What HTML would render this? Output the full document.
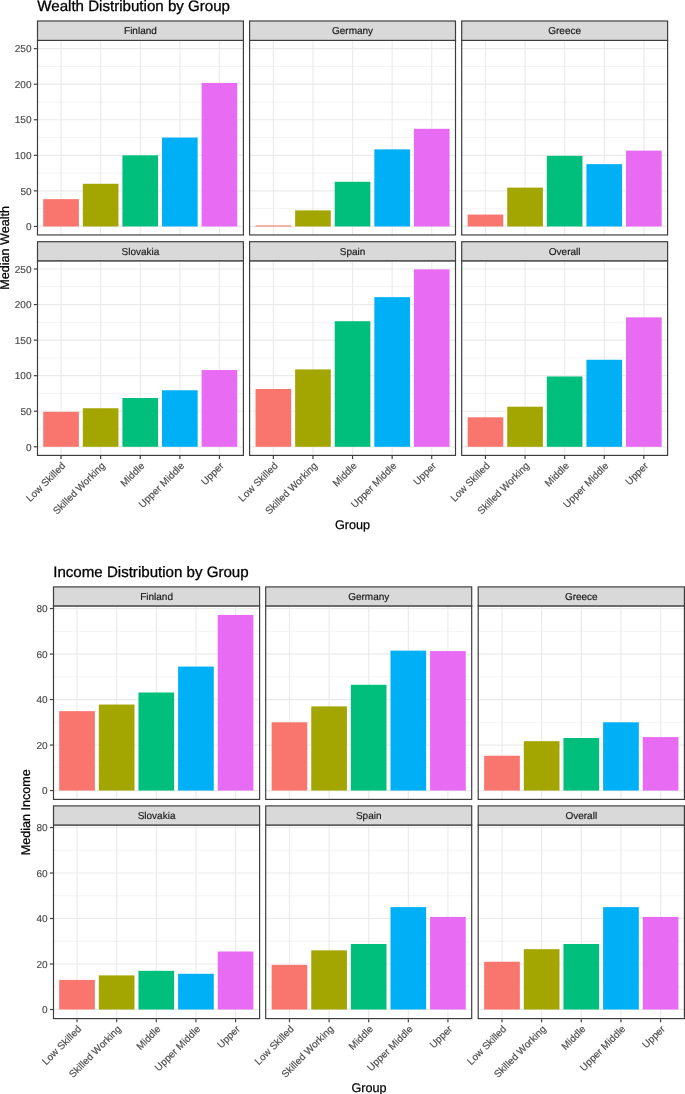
<!DOCTYPE html>
<html><head><meta charset="utf-8"><title>Distribution by Group</title>
<style>
html,body{margin:0;padding:0;background:#fff;}
body{width:685px;height:1094px;overflow:hidden;}
text.t{stroke:#000;stroke-width:0.3px;}
text.a{stroke:#000;stroke-width:0.25px;}
text.k{stroke:#4D4D4D;stroke-width:0.18px;}
text.s{stroke:#1A1A1A;stroke-width:0.18px;}
svg{display:block;text-rendering:geometricPrecision;font-family:"Liberation Sans",Arial,Helvetica,sans-serif;}
</style></head><body>
<svg width="685" height="1094" viewBox="0 0 685 1094">
<rect width="685" height="1094" fill="#fff"/>
<g id="wealth">
<text class="t" x="37.3" y="11.4" font-size="15.1" fill="#000">Wealth Distribution by Group</text>
<rect x="37.5" y="40.4" width="205.9" height="194.55" fill="#fff"/>
<line x1="37.5" x2="243.4" y1="208.67" y2="208.67" stroke="#EBEBEB" stroke-width="0.6"/>
<line x1="37.5" x2="243.4" y1="173.11" y2="173.11" stroke="#EBEBEB" stroke-width="0.6"/>
<line x1="37.5" x2="243.4" y1="137.55" y2="137.55" stroke="#EBEBEB" stroke-width="0.6"/>
<line x1="37.5" x2="243.4" y1="101.99" y2="101.99" stroke="#EBEBEB" stroke-width="0.6"/>
<line x1="37.5" x2="243.4" y1="66.43" y2="66.43" stroke="#EBEBEB" stroke-width="0.6"/>
<line x1="37.5" x2="243.4" y1="226.45" y2="226.45" stroke="#EBEBEB" stroke-width="1.18"/>
<line x1="37.5" x2="243.4" y1="190.89" y2="190.89" stroke="#EBEBEB" stroke-width="1.18"/>
<line x1="37.5" x2="243.4" y1="155.33" y2="155.33" stroke="#EBEBEB" stroke-width="1.18"/>
<line x1="37.5" x2="243.4" y1="119.77" y2="119.77" stroke="#EBEBEB" stroke-width="1.18"/>
<line x1="37.5" x2="243.4" y1="84.21" y2="84.21" stroke="#EBEBEB" stroke-width="1.18"/>
<line x1="37.5" x2="243.4" y1="48.65" y2="48.65" stroke="#EBEBEB" stroke-width="1.18"/>
<line x1="61.04" x2="61.04" y1="40.4" y2="234.95" stroke="#EBEBEB" stroke-width="1.18"/>
<line x1="100.63" x2="100.63" y1="40.4" y2="234.95" stroke="#EBEBEB" stroke-width="1.18"/>
<line x1="140.23" x2="140.23" y1="40.4" y2="234.95" stroke="#EBEBEB" stroke-width="1.18"/>
<line x1="179.83" x2="179.83" y1="40.4" y2="234.95" stroke="#EBEBEB" stroke-width="1.18"/>
<line x1="219.42" x2="219.42" y1="40.4" y2="234.95" stroke="#EBEBEB" stroke-width="1.18"/>
<rect x="43.22" y="199.14" width="35.64" height="27.31" fill="#F8766D"/>
<rect x="82.82" y="183.78" width="35.64" height="42.67" fill="#A3A500"/>
<rect x="122.41" y="155.33" width="35.64" height="71.12" fill="#00BF7D"/>
<rect x="162.01" y="137.55" width="35.64" height="88.9" fill="#00B0F6"/>
<rect x="201.6" y="82.93" width="35.64" height="143.52" fill="#E76BF3"/>
<rect x="37.5" y="40.4" width="205.9" height="194.55" fill="none" stroke="#3d3d3d" stroke-width="1.18"/>
<rect x="37.5" y="21" width="205.9" height="19.4" fill="#D9D9D9" stroke="#3d3d3d" stroke-width="1.18"/>
<text class="s" x="140.45" y="34.1" font-size="10" fill="#1A1A1A" text-anchor="middle">Finland</text>
<line x1="33.86" x2="36.91" y1="226.45" y2="226.45" stroke="#3d3d3d" stroke-width="1.18"/>
<text class="k" x="31.5" y="230.15" font-size="10" fill="#4D4D4D" text-anchor="end">0</text>
<line x1="33.86" x2="36.91" y1="190.89" y2="190.89" stroke="#3d3d3d" stroke-width="1.18"/>
<text class="k" x="31.5" y="194.59" font-size="10" fill="#4D4D4D" text-anchor="end">50</text>
<line x1="33.86" x2="36.91" y1="155.33" y2="155.33" stroke="#3d3d3d" stroke-width="1.18"/>
<text class="k" x="31.5" y="159.03" font-size="10" fill="#4D4D4D" text-anchor="end">100</text>
<line x1="33.86" x2="36.91" y1="119.77" y2="119.77" stroke="#3d3d3d" stroke-width="1.18"/>
<text class="k" x="31.5" y="123.47" font-size="10" fill="#4D4D4D" text-anchor="end">150</text>
<line x1="33.86" x2="36.91" y1="84.21" y2="84.21" stroke="#3d3d3d" stroke-width="1.18"/>
<text class="k" x="31.5" y="87.91" font-size="10" fill="#4D4D4D" text-anchor="end">200</text>
<line x1="33.86" x2="36.91" y1="48.65" y2="48.65" stroke="#3d3d3d" stroke-width="1.18"/>
<text class="k" x="31.5" y="52.35" font-size="10" fill="#4D4D4D" text-anchor="end">250</text>
<rect x="249.6" y="40.4" width="205.9" height="194.55" fill="#fff"/>
<line x1="249.6" x2="455.5" y1="208.67" y2="208.67" stroke="#EBEBEB" stroke-width="0.6"/>
<line x1="249.6" x2="455.5" y1="173.11" y2="173.11" stroke="#EBEBEB" stroke-width="0.6"/>
<line x1="249.6" x2="455.5" y1="137.55" y2="137.55" stroke="#EBEBEB" stroke-width="0.6"/>
<line x1="249.6" x2="455.5" y1="101.99" y2="101.99" stroke="#EBEBEB" stroke-width="0.6"/>
<line x1="249.6" x2="455.5" y1="66.43" y2="66.43" stroke="#EBEBEB" stroke-width="0.6"/>
<line x1="249.6" x2="455.5" y1="226.45" y2="226.45" stroke="#EBEBEB" stroke-width="1.18"/>
<line x1="249.6" x2="455.5" y1="190.89" y2="190.89" stroke="#EBEBEB" stroke-width="1.18"/>
<line x1="249.6" x2="455.5" y1="155.33" y2="155.33" stroke="#EBEBEB" stroke-width="1.18"/>
<line x1="249.6" x2="455.5" y1="119.77" y2="119.77" stroke="#EBEBEB" stroke-width="1.18"/>
<line x1="249.6" x2="455.5" y1="84.21" y2="84.21" stroke="#EBEBEB" stroke-width="1.18"/>
<line x1="249.6" x2="455.5" y1="48.65" y2="48.65" stroke="#EBEBEB" stroke-width="1.18"/>
<line x1="273.36" x2="273.36" y1="40.4" y2="234.95" stroke="#EBEBEB" stroke-width="1.18"/>
<line x1="312.95" x2="312.95" y1="40.4" y2="234.95" stroke="#EBEBEB" stroke-width="1.18"/>
<line x1="352.55" x2="352.55" y1="40.4" y2="234.95" stroke="#EBEBEB" stroke-width="1.18"/>
<line x1="392.15" x2="392.15" y1="40.4" y2="234.95" stroke="#EBEBEB" stroke-width="1.18"/>
<line x1="431.74" x2="431.74" y1="40.4" y2="234.95" stroke="#EBEBEB" stroke-width="1.18"/>
<rect x="255.54" y="225.45" width="35.64" height="1" fill="#F8766D"/>
<rect x="295.14" y="210.38" width="35.64" height="16.07" fill="#A3A500"/>
<rect x="334.73" y="181.79" width="35.64" height="44.66" fill="#00BF7D"/>
<rect x="374.33" y="149.36" width="35.64" height="77.09" fill="#00B0F6"/>
<rect x="413.92" y="128.8" width="35.64" height="97.65" fill="#E76BF3"/>
<rect x="249.6" y="40.4" width="205.9" height="194.55" fill="none" stroke="#3d3d3d" stroke-width="1.18"/>
<rect x="249.6" y="21" width="205.9" height="19.4" fill="#D9D9D9" stroke="#3d3d3d" stroke-width="1.18"/>
<text class="s" x="352.55" y="34.1" font-size="10" fill="#1A1A1A" text-anchor="middle">Germany</text>
<rect x="461.7" y="40.4" width="205.9" height="194.55" fill="#fff"/>
<line x1="461.7" x2="667.6" y1="208.67" y2="208.67" stroke="#EBEBEB" stroke-width="0.6"/>
<line x1="461.7" x2="667.6" y1="173.11" y2="173.11" stroke="#EBEBEB" stroke-width="0.6"/>
<line x1="461.7" x2="667.6" y1="137.55" y2="137.55" stroke="#EBEBEB" stroke-width="0.6"/>
<line x1="461.7" x2="667.6" y1="101.99" y2="101.99" stroke="#EBEBEB" stroke-width="0.6"/>
<line x1="461.7" x2="667.6" y1="66.43" y2="66.43" stroke="#EBEBEB" stroke-width="0.6"/>
<line x1="461.7" x2="667.6" y1="226.45" y2="226.45" stroke="#EBEBEB" stroke-width="1.18"/>
<line x1="461.7" x2="667.6" y1="190.89" y2="190.89" stroke="#EBEBEB" stroke-width="1.18"/>
<line x1="461.7" x2="667.6" y1="155.33" y2="155.33" stroke="#EBEBEB" stroke-width="1.18"/>
<line x1="461.7" x2="667.6" y1="119.77" y2="119.77" stroke="#EBEBEB" stroke-width="1.18"/>
<line x1="461.7" x2="667.6" y1="84.21" y2="84.21" stroke="#EBEBEB" stroke-width="1.18"/>
<line x1="461.7" x2="667.6" y1="48.65" y2="48.65" stroke="#EBEBEB" stroke-width="1.18"/>
<line x1="485.46" x2="485.46" y1="40.4" y2="234.95" stroke="#EBEBEB" stroke-width="1.18"/>
<line x1="525.05" x2="525.05" y1="40.4" y2="234.95" stroke="#EBEBEB" stroke-width="1.18"/>
<line x1="564.65" x2="564.65" y1="40.4" y2="234.95" stroke="#EBEBEB" stroke-width="1.18"/>
<line x1="604.25" x2="604.25" y1="40.4" y2="234.95" stroke="#EBEBEB" stroke-width="1.18"/>
<line x1="643.84" x2="643.84" y1="40.4" y2="234.95" stroke="#EBEBEB" stroke-width="1.18"/>
<rect x="467.64" y="214.57" width="35.64" height="11.88" fill="#F8766D"/>
<rect x="507.24" y="187.62" width="35.64" height="38.83" fill="#A3A500"/>
<rect x="546.83" y="155.83" width="35.64" height="70.62" fill="#00BF7D"/>
<rect x="586.43" y="164.15" width="35.64" height="62.3" fill="#00B0F6"/>
<rect x="626.02" y="150.64" width="35.64" height="75.81" fill="#E76BF3"/>
<rect x="461.7" y="40.4" width="205.9" height="194.55" fill="none" stroke="#3d3d3d" stroke-width="1.18"/>
<rect x="461.7" y="21" width="205.9" height="19.4" fill="#D9D9D9" stroke="#3d3d3d" stroke-width="1.18"/>
<text class="s" x="564.65" y="34.1" font-size="10" fill="#1A1A1A" text-anchor="middle">Greece</text>
<rect x="37.5" y="260.8" width="205.9" height="194.6" fill="#fff"/>
<line x1="37.5" x2="243.4" y1="429.02" y2="429.02" stroke="#EBEBEB" stroke-width="0.6"/>
<line x1="37.5" x2="243.4" y1="393.46" y2="393.46" stroke="#EBEBEB" stroke-width="0.6"/>
<line x1="37.5" x2="243.4" y1="357.9" y2="357.9" stroke="#EBEBEB" stroke-width="0.6"/>
<line x1="37.5" x2="243.4" y1="322.34" y2="322.34" stroke="#EBEBEB" stroke-width="0.6"/>
<line x1="37.5" x2="243.4" y1="286.78" y2="286.78" stroke="#EBEBEB" stroke-width="0.6"/>
<line x1="37.5" x2="243.4" y1="446.8" y2="446.8" stroke="#EBEBEB" stroke-width="1.18"/>
<line x1="37.5" x2="243.4" y1="411.24" y2="411.24" stroke="#EBEBEB" stroke-width="1.18"/>
<line x1="37.5" x2="243.4" y1="375.68" y2="375.68" stroke="#EBEBEB" stroke-width="1.18"/>
<line x1="37.5" x2="243.4" y1="340.12" y2="340.12" stroke="#EBEBEB" stroke-width="1.18"/>
<line x1="37.5" x2="243.4" y1="304.56" y2="304.56" stroke="#EBEBEB" stroke-width="1.18"/>
<line x1="37.5" x2="243.4" y1="269" y2="269" stroke="#EBEBEB" stroke-width="1.18"/>
<line x1="61.04" x2="61.04" y1="260.8" y2="455.4" stroke="#EBEBEB" stroke-width="1.18"/>
<line x1="100.63" x2="100.63" y1="260.8" y2="455.4" stroke="#EBEBEB" stroke-width="1.18"/>
<line x1="140.23" x2="140.23" y1="260.8" y2="455.4" stroke="#EBEBEB" stroke-width="1.18"/>
<line x1="179.83" x2="179.83" y1="260.8" y2="455.4" stroke="#EBEBEB" stroke-width="1.18"/>
<line x1="219.42" x2="219.42" y1="260.8" y2="455.4" stroke="#EBEBEB" stroke-width="1.18"/>
<rect x="43.22" y="411.81" width="35.64" height="34.99" fill="#F8766D"/>
<rect x="82.82" y="408.25" width="35.64" height="38.55" fill="#A3A500"/>
<rect x="122.41" y="398.01" width="35.64" height="48.79" fill="#00BF7D"/>
<rect x="162.01" y="390.26" width="35.64" height="56.54" fill="#00B0F6"/>
<rect x="201.6" y="370.06" width="35.64" height="76.74" fill="#E76BF3"/>
<rect x="37.5" y="260.8" width="205.9" height="194.6" fill="none" stroke="#3d3d3d" stroke-width="1.18"/>
<rect x="37.5" y="241.7" width="205.9" height="19.1" fill="#D9D9D9" stroke="#3d3d3d" stroke-width="1.18"/>
<text class="s" x="140.45" y="255.25" font-size="10" fill="#1A1A1A" text-anchor="middle">Slovakia</text>
<line x1="33.86" x2="36.91" y1="446.8" y2="446.8" stroke="#3d3d3d" stroke-width="1.18"/>
<text class="k" x="31.5" y="450.5" font-size="10" fill="#4D4D4D" text-anchor="end">0</text>
<line x1="33.86" x2="36.91" y1="411.24" y2="411.24" stroke="#3d3d3d" stroke-width="1.18"/>
<text class="k" x="31.5" y="414.94" font-size="10" fill="#4D4D4D" text-anchor="end">50</text>
<line x1="33.86" x2="36.91" y1="375.68" y2="375.68" stroke="#3d3d3d" stroke-width="1.18"/>
<text class="k" x="31.5" y="379.38" font-size="10" fill="#4D4D4D" text-anchor="end">100</text>
<line x1="33.86" x2="36.91" y1="340.12" y2="340.12" stroke="#3d3d3d" stroke-width="1.18"/>
<text class="k" x="31.5" y="343.82" font-size="10" fill="#4D4D4D" text-anchor="end">150</text>
<line x1="33.86" x2="36.91" y1="304.56" y2="304.56" stroke="#3d3d3d" stroke-width="1.18"/>
<text class="k" x="31.5" y="308.26" font-size="10" fill="#4D4D4D" text-anchor="end">200</text>
<line x1="33.86" x2="36.91" y1="269" y2="269" stroke="#3d3d3d" stroke-width="1.18"/>
<text class="k" x="31.5" y="272.7" font-size="10" fill="#4D4D4D" text-anchor="end">250</text>
<line x1="61.04" x2="61.04" y1="455.99" y2="459.04" stroke="#3d3d3d" stroke-width="1.18"/>
<text class="k" transform="translate(66.04,466.4) rotate(-45)" font-size="10" fill="#4D4D4D" text-anchor="end">Low Skilled</text>
<line x1="100.63" x2="100.63" y1="455.99" y2="459.04" stroke="#3d3d3d" stroke-width="1.18"/>
<text class="k" transform="translate(105.63,466.4) rotate(-45)" font-size="10" fill="#4D4D4D" text-anchor="end">Skilled Working</text>
<line x1="140.23" x2="140.23" y1="455.99" y2="459.04" stroke="#3d3d3d" stroke-width="1.18"/>
<text class="k" transform="translate(145.23,466.4) rotate(-45)" font-size="10" fill="#4D4D4D" text-anchor="end">Middle</text>
<line x1="179.83" x2="179.83" y1="455.99" y2="459.04" stroke="#3d3d3d" stroke-width="1.18"/>
<text class="k" transform="translate(184.83,466.4) rotate(-45)" font-size="10" fill="#4D4D4D" text-anchor="end">Upper Middle</text>
<line x1="219.42" x2="219.42" y1="455.99" y2="459.04" stroke="#3d3d3d" stroke-width="1.18"/>
<text class="k" transform="translate(224.42,466.4) rotate(-45)" font-size="10" fill="#4D4D4D" text-anchor="end">Upper</text>
<rect x="249.6" y="260.8" width="205.9" height="194.6" fill="#fff"/>
<line x1="249.6" x2="455.5" y1="429.02" y2="429.02" stroke="#EBEBEB" stroke-width="0.6"/>
<line x1="249.6" x2="455.5" y1="393.46" y2="393.46" stroke="#EBEBEB" stroke-width="0.6"/>
<line x1="249.6" x2="455.5" y1="357.9" y2="357.9" stroke="#EBEBEB" stroke-width="0.6"/>
<line x1="249.6" x2="455.5" y1="322.34" y2="322.34" stroke="#EBEBEB" stroke-width="0.6"/>
<line x1="249.6" x2="455.5" y1="286.78" y2="286.78" stroke="#EBEBEB" stroke-width="0.6"/>
<line x1="249.6" x2="455.5" y1="446.8" y2="446.8" stroke="#EBEBEB" stroke-width="1.18"/>
<line x1="249.6" x2="455.5" y1="411.24" y2="411.24" stroke="#EBEBEB" stroke-width="1.18"/>
<line x1="249.6" x2="455.5" y1="375.68" y2="375.68" stroke="#EBEBEB" stroke-width="1.18"/>
<line x1="249.6" x2="455.5" y1="340.12" y2="340.12" stroke="#EBEBEB" stroke-width="1.18"/>
<line x1="249.6" x2="455.5" y1="304.56" y2="304.56" stroke="#EBEBEB" stroke-width="1.18"/>
<line x1="249.6" x2="455.5" y1="269" y2="269" stroke="#EBEBEB" stroke-width="1.18"/>
<line x1="273.36" x2="273.36" y1="260.8" y2="455.4" stroke="#EBEBEB" stroke-width="1.18"/>
<line x1="312.95" x2="312.95" y1="260.8" y2="455.4" stroke="#EBEBEB" stroke-width="1.18"/>
<line x1="352.55" x2="352.55" y1="260.8" y2="455.4" stroke="#EBEBEB" stroke-width="1.18"/>
<line x1="392.15" x2="392.15" y1="260.8" y2="455.4" stroke="#EBEBEB" stroke-width="1.18"/>
<line x1="431.74" x2="431.74" y1="260.8" y2="455.4" stroke="#EBEBEB" stroke-width="1.18"/>
<rect x="255.54" y="388.98" width="35.64" height="57.82" fill="#F8766D"/>
<rect x="295.14" y="369.42" width="35.64" height="77.38" fill="#A3A500"/>
<rect x="334.73" y="321.2" width="35.64" height="125.6" fill="#00BF7D"/>
<rect x="374.33" y="297.16" width="35.64" height="149.64" fill="#00B0F6"/>
<rect x="413.92" y="269.36" width="35.64" height="177.44" fill="#E76BF3"/>
<rect x="249.6" y="260.8" width="205.9" height="194.6" fill="none" stroke="#3d3d3d" stroke-width="1.18"/>
<rect x="249.6" y="241.7" width="205.9" height="19.1" fill="#D9D9D9" stroke="#3d3d3d" stroke-width="1.18"/>
<text class="s" x="352.55" y="255.25" font-size="10" fill="#1A1A1A" text-anchor="middle">Spain</text>
<line x1="273.36" x2="273.36" y1="455.99" y2="459.04" stroke="#3d3d3d" stroke-width="1.18"/>
<text class="k" transform="translate(278.36,466.4) rotate(-45)" font-size="10" fill="#4D4D4D" text-anchor="end">Low Skilled</text>
<line x1="312.95" x2="312.95" y1="455.99" y2="459.04" stroke="#3d3d3d" stroke-width="1.18"/>
<text class="k" transform="translate(317.95,466.4) rotate(-45)" font-size="10" fill="#4D4D4D" text-anchor="end">Skilled Working</text>
<line x1="352.55" x2="352.55" y1="455.99" y2="459.04" stroke="#3d3d3d" stroke-width="1.18"/>
<text class="k" transform="translate(357.55,466.4) rotate(-45)" font-size="10" fill="#4D4D4D" text-anchor="end">Middle</text>
<line x1="392.15" x2="392.15" y1="455.99" y2="459.04" stroke="#3d3d3d" stroke-width="1.18"/>
<text class="k" transform="translate(397.15,466.4) rotate(-45)" font-size="10" fill="#4D4D4D" text-anchor="end">Upper Middle</text>
<line x1="431.74" x2="431.74" y1="455.99" y2="459.04" stroke="#3d3d3d" stroke-width="1.18"/>
<text class="k" transform="translate(436.74,466.4) rotate(-45)" font-size="10" fill="#4D4D4D" text-anchor="end">Upper</text>
<rect x="461.7" y="260.8" width="205.9" height="194.6" fill="#fff"/>
<line x1="461.7" x2="667.6" y1="429.02" y2="429.02" stroke="#EBEBEB" stroke-width="0.6"/>
<line x1="461.7" x2="667.6" y1="393.46" y2="393.46" stroke="#EBEBEB" stroke-width="0.6"/>
<line x1="461.7" x2="667.6" y1="357.9" y2="357.9" stroke="#EBEBEB" stroke-width="0.6"/>
<line x1="461.7" x2="667.6" y1="322.34" y2="322.34" stroke="#EBEBEB" stroke-width="0.6"/>
<line x1="461.7" x2="667.6" y1="286.78" y2="286.78" stroke="#EBEBEB" stroke-width="0.6"/>
<line x1="461.7" x2="667.6" y1="446.8" y2="446.8" stroke="#EBEBEB" stroke-width="1.18"/>
<line x1="461.7" x2="667.6" y1="411.24" y2="411.24" stroke="#EBEBEB" stroke-width="1.18"/>
<line x1="461.7" x2="667.6" y1="375.68" y2="375.68" stroke="#EBEBEB" stroke-width="1.18"/>
<line x1="461.7" x2="667.6" y1="340.12" y2="340.12" stroke="#EBEBEB" stroke-width="1.18"/>
<line x1="461.7" x2="667.6" y1="304.56" y2="304.56" stroke="#EBEBEB" stroke-width="1.18"/>
<line x1="461.7" x2="667.6" y1="269" y2="269" stroke="#EBEBEB" stroke-width="1.18"/>
<line x1="485.46" x2="485.46" y1="260.8" y2="455.4" stroke="#EBEBEB" stroke-width="1.18"/>
<line x1="525.05" x2="525.05" y1="260.8" y2="455.4" stroke="#EBEBEB" stroke-width="1.18"/>
<line x1="564.65" x2="564.65" y1="260.8" y2="455.4" stroke="#EBEBEB" stroke-width="1.18"/>
<line x1="604.25" x2="604.25" y1="260.8" y2="455.4" stroke="#EBEBEB" stroke-width="1.18"/>
<line x1="643.84" x2="643.84" y1="260.8" y2="455.4" stroke="#EBEBEB" stroke-width="1.18"/>
<rect x="467.64" y="417.29" width="35.64" height="29.51" fill="#F8766D"/>
<rect x="507.24" y="406.69" width="35.64" height="40.11" fill="#A3A500"/>
<rect x="546.83" y="376.46" width="35.64" height="70.34" fill="#00BF7D"/>
<rect x="586.43" y="359.75" width="35.64" height="87.05" fill="#00B0F6"/>
<rect x="626.02" y="317.36" width="35.64" height="129.44" fill="#E76BF3"/>
<rect x="461.7" y="260.8" width="205.9" height="194.6" fill="none" stroke="#3d3d3d" stroke-width="1.18"/>
<rect x="461.7" y="241.7" width="205.9" height="19.1" fill="#D9D9D9" stroke="#3d3d3d" stroke-width="1.18"/>
<text class="s" x="564.65" y="255.25" font-size="10" fill="#1A1A1A" text-anchor="middle">Overall</text>
<line x1="485.46" x2="485.46" y1="455.99" y2="459.04" stroke="#3d3d3d" stroke-width="1.18"/>
<text class="k" transform="translate(490.46,466.4) rotate(-45)" font-size="10" fill="#4D4D4D" text-anchor="end">Low Skilled</text>
<line x1="525.05" x2="525.05" y1="455.99" y2="459.04" stroke="#3d3d3d" stroke-width="1.18"/>
<text class="k" transform="translate(530.05,466.4) rotate(-45)" font-size="10" fill="#4D4D4D" text-anchor="end">Skilled Working</text>
<line x1="564.65" x2="564.65" y1="455.99" y2="459.04" stroke="#3d3d3d" stroke-width="1.18"/>
<text class="k" transform="translate(569.65,466.4) rotate(-45)" font-size="10" fill="#4D4D4D" text-anchor="end">Middle</text>
<line x1="604.25" x2="604.25" y1="455.99" y2="459.04" stroke="#3d3d3d" stroke-width="1.18"/>
<text class="k" transform="translate(609.25,466.4) rotate(-45)" font-size="10" fill="#4D4D4D" text-anchor="end">Upper Middle</text>
<line x1="643.84" x2="643.84" y1="455.99" y2="459.04" stroke="#3d3d3d" stroke-width="1.18"/>
<text class="k" transform="translate(648.84,466.4) rotate(-45)" font-size="10" fill="#4D4D4D" text-anchor="end">Upper</text>
<text class="a" x="352.55" y="529.1" font-size="12.6" fill="#000" text-anchor="middle">Group</text>
<text class="a" transform="translate(9.3,247.9) rotate(-90)" font-size="12.6" fill="#000" text-anchor="middle">Median Wealth</text>
</g>
<g id="income">
<text class="t" x="53.2" y="577.3" font-size="15.1" fill="#000">Income Distribution by Group</text>
<rect x="53.5" y="605.9" width="206.1" height="193.5" fill="#fff"/>
<line x1="53.5" x2="259.6" y1="767.8" y2="767.8" stroke="#EBEBEB" stroke-width="0.6"/>
<line x1="53.5" x2="259.6" y1="722.3" y2="722.3" stroke="#EBEBEB" stroke-width="0.6"/>
<line x1="53.5" x2="259.6" y1="676.8" y2="676.8" stroke="#EBEBEB" stroke-width="0.6"/>
<line x1="53.5" x2="259.6" y1="631.3" y2="631.3" stroke="#EBEBEB" stroke-width="0.6"/>
<line x1="53.5" x2="259.6" y1="790.55" y2="790.55" stroke="#EBEBEB" stroke-width="1.18"/>
<line x1="53.5" x2="259.6" y1="745.05" y2="745.05" stroke="#EBEBEB" stroke-width="1.18"/>
<line x1="53.5" x2="259.6" y1="699.55" y2="699.55" stroke="#EBEBEB" stroke-width="1.18"/>
<line x1="53.5" x2="259.6" y1="654.05" y2="654.05" stroke="#EBEBEB" stroke-width="1.18"/>
<line x1="53.5" x2="259.6" y1="608.55" y2="608.55" stroke="#EBEBEB" stroke-width="1.18"/>
<line x1="77.03" x2="77.03" y1="605.9" y2="799.4" stroke="#EBEBEB" stroke-width="1.18"/>
<line x1="116.67" x2="116.67" y1="605.9" y2="799.4" stroke="#EBEBEB" stroke-width="1.18"/>
<line x1="156.3" x2="156.3" y1="605.9" y2="799.4" stroke="#EBEBEB" stroke-width="1.18"/>
<line x1="195.93" x2="195.93" y1="605.9" y2="799.4" stroke="#EBEBEB" stroke-width="1.18"/>
<line x1="235.57" x2="235.57" y1="605.9" y2="799.4" stroke="#EBEBEB" stroke-width="1.18"/>
<rect x="59.2" y="711.15" width="35.67" height="79.4" fill="#F8766D"/>
<rect x="98.83" y="704.55" width="35.67" height="85.99" fill="#A3A500"/>
<rect x="138.46" y="692.5" width="35.67" height="98.05" fill="#00BF7D"/>
<rect x="178.1" y="666.56" width="35.67" height="123.99" fill="#00B0F6"/>
<rect x="217.73" y="614.92" width="35.67" height="175.63" fill="#E76BF3"/>
<rect x="53.5" y="605.9" width="206.1" height="193.5" fill="none" stroke="#3d3d3d" stroke-width="1.18"/>
<rect x="53.5" y="586.9" width="206.1" height="19" fill="#D9D9D9" stroke="#3d3d3d" stroke-width="1.18"/>
<text class="s" x="156.55" y="600.4" font-size="10" fill="#1A1A1A" text-anchor="middle">Finland</text>
<line x1="49.86" x2="52.91" y1="790.55" y2="790.55" stroke="#3d3d3d" stroke-width="1.18"/>
<text class="k" x="47.5" y="794.25" font-size="10" fill="#4D4D4D" text-anchor="end">0</text>
<line x1="49.86" x2="52.91" y1="745.05" y2="745.05" stroke="#3d3d3d" stroke-width="1.18"/>
<text class="k" x="47.5" y="748.75" font-size="10" fill="#4D4D4D" text-anchor="end">20</text>
<line x1="49.86" x2="52.91" y1="699.55" y2="699.55" stroke="#3d3d3d" stroke-width="1.18"/>
<text class="k" x="47.5" y="703.25" font-size="10" fill="#4D4D4D" text-anchor="end">40</text>
<line x1="49.86" x2="52.91" y1="654.05" y2="654.05" stroke="#3d3d3d" stroke-width="1.18"/>
<text class="k" x="47.5" y="657.75" font-size="10" fill="#4D4D4D" text-anchor="end">60</text>
<line x1="49.86" x2="52.91" y1="608.55" y2="608.55" stroke="#3d3d3d" stroke-width="1.18"/>
<text class="k" x="47.5" y="612.25" font-size="10" fill="#4D4D4D" text-anchor="end">80</text>
<rect x="265.7" y="605.9" width="206" height="193.5" fill="#fff"/>
<line x1="265.7" x2="471.7" y1="767.8" y2="767.8" stroke="#EBEBEB" stroke-width="0.6"/>
<line x1="265.7" x2="471.7" y1="722.3" y2="722.3" stroke="#EBEBEB" stroke-width="0.6"/>
<line x1="265.7" x2="471.7" y1="676.8" y2="676.8" stroke="#EBEBEB" stroke-width="0.6"/>
<line x1="265.7" x2="471.7" y1="631.3" y2="631.3" stroke="#EBEBEB" stroke-width="0.6"/>
<line x1="265.7" x2="471.7" y1="790.55" y2="790.55" stroke="#EBEBEB" stroke-width="1.18"/>
<line x1="265.7" x2="471.7" y1="745.05" y2="745.05" stroke="#EBEBEB" stroke-width="1.18"/>
<line x1="265.7" x2="471.7" y1="699.55" y2="699.55" stroke="#EBEBEB" stroke-width="1.18"/>
<line x1="265.7" x2="471.7" y1="654.05" y2="654.05" stroke="#EBEBEB" stroke-width="1.18"/>
<line x1="265.7" x2="471.7" y1="608.55" y2="608.55" stroke="#EBEBEB" stroke-width="1.18"/>
<line x1="289.47" x2="289.47" y1="605.9" y2="799.4" stroke="#EBEBEB" stroke-width="1.18"/>
<line x1="329.08" x2="329.08" y1="605.9" y2="799.4" stroke="#EBEBEB" stroke-width="1.18"/>
<line x1="368.7" x2="368.7" y1="605.9" y2="799.4" stroke="#EBEBEB" stroke-width="1.18"/>
<line x1="408.32" x2="408.32" y1="605.9" y2="799.4" stroke="#EBEBEB" stroke-width="1.18"/>
<line x1="447.93" x2="447.93" y1="605.9" y2="799.4" stroke="#EBEBEB" stroke-width="1.18"/>
<rect x="271.64" y="722.3" width="35.65" height="68.25" fill="#F8766D"/>
<rect x="311.26" y="706.38" width="35.65" height="84.17" fill="#A3A500"/>
<rect x="350.87" y="684.76" width="35.65" height="105.79" fill="#00BF7D"/>
<rect x="390.49" y="650.64" width="35.65" height="139.91" fill="#00B0F6"/>
<rect x="430.1" y="651.09" width="35.65" height="139.46" fill="#E76BF3"/>
<rect x="265.7" y="605.9" width="206" height="193.5" fill="none" stroke="#3d3d3d" stroke-width="1.18"/>
<rect x="265.7" y="586.9" width="206" height="19" fill="#D9D9D9" stroke="#3d3d3d" stroke-width="1.18"/>
<text class="s" x="368.7" y="600.4" font-size="10" fill="#1A1A1A" text-anchor="middle">Germany</text>
<rect x="478.2" y="605.9" width="206.2" height="193.5" fill="#fff"/>
<line x1="478.2" x2="684.4" y1="767.8" y2="767.8" stroke="#EBEBEB" stroke-width="0.6"/>
<line x1="478.2" x2="684.4" y1="722.3" y2="722.3" stroke="#EBEBEB" stroke-width="0.6"/>
<line x1="478.2" x2="684.4" y1="676.8" y2="676.8" stroke="#EBEBEB" stroke-width="0.6"/>
<line x1="478.2" x2="684.4" y1="631.3" y2="631.3" stroke="#EBEBEB" stroke-width="0.6"/>
<line x1="478.2" x2="684.4" y1="790.55" y2="790.55" stroke="#EBEBEB" stroke-width="1.18"/>
<line x1="478.2" x2="684.4" y1="745.05" y2="745.05" stroke="#EBEBEB" stroke-width="1.18"/>
<line x1="478.2" x2="684.4" y1="699.55" y2="699.55" stroke="#EBEBEB" stroke-width="1.18"/>
<line x1="478.2" x2="684.4" y1="654.05" y2="654.05" stroke="#EBEBEB" stroke-width="1.18"/>
<line x1="478.2" x2="684.4" y1="608.55" y2="608.55" stroke="#EBEBEB" stroke-width="1.18"/>
<line x1="501.99" x2="501.99" y1="605.9" y2="799.4" stroke="#EBEBEB" stroke-width="1.18"/>
<line x1="541.65" x2="541.65" y1="605.9" y2="799.4" stroke="#EBEBEB" stroke-width="1.18"/>
<line x1="581.3" x2="581.3" y1="605.9" y2="799.4" stroke="#EBEBEB" stroke-width="1.18"/>
<line x1="620.95" x2="620.95" y1="605.9" y2="799.4" stroke="#EBEBEB" stroke-width="1.18"/>
<line x1="660.61" x2="660.61" y1="605.9" y2="799.4" stroke="#EBEBEB" stroke-width="1.18"/>
<rect x="484.15" y="755.74" width="35.69" height="34.81" fill="#F8766D"/>
<rect x="523.8" y="741.18" width="35.69" height="49.37" fill="#A3A500"/>
<rect x="563.46" y="738" width="35.69" height="52.55" fill="#00BF7D"/>
<rect x="603.11" y="722.3" width="35.69" height="68.25" fill="#00B0F6"/>
<rect x="642.76" y="737.09" width="35.69" height="53.46" fill="#E76BF3"/>
<rect x="478.2" y="605.9" width="206.2" height="193.5" fill="none" stroke="#3d3d3d" stroke-width="1.18"/>
<rect x="478.2" y="586.9" width="206.2" height="19" fill="#D9D9D9" stroke="#3d3d3d" stroke-width="1.18"/>
<text class="s" x="581.3" y="600.4" font-size="10" fill="#1A1A1A" text-anchor="middle">Greece</text>
<rect x="53.5" y="825" width="206.1" height="193.6" fill="#fff"/>
<line x1="53.5" x2="259.6" y1="986.75" y2="986.75" stroke="#EBEBEB" stroke-width="0.6"/>
<line x1="53.5" x2="259.6" y1="941.25" y2="941.25" stroke="#EBEBEB" stroke-width="0.6"/>
<line x1="53.5" x2="259.6" y1="895.75" y2="895.75" stroke="#EBEBEB" stroke-width="0.6"/>
<line x1="53.5" x2="259.6" y1="850.25" y2="850.25" stroke="#EBEBEB" stroke-width="0.6"/>
<line x1="53.5" x2="259.6" y1="1009.5" y2="1009.5" stroke="#EBEBEB" stroke-width="1.18"/>
<line x1="53.5" x2="259.6" y1="964" y2="964" stroke="#EBEBEB" stroke-width="1.18"/>
<line x1="53.5" x2="259.6" y1="918.5" y2="918.5" stroke="#EBEBEB" stroke-width="1.18"/>
<line x1="53.5" x2="259.6" y1="873" y2="873" stroke="#EBEBEB" stroke-width="1.18"/>
<line x1="53.5" x2="259.6" y1="827.5" y2="827.5" stroke="#EBEBEB" stroke-width="1.18"/>
<line x1="77.03" x2="77.03" y1="825" y2="1018.6" stroke="#EBEBEB" stroke-width="1.18"/>
<line x1="116.67" x2="116.67" y1="825" y2="1018.6" stroke="#EBEBEB" stroke-width="1.18"/>
<line x1="156.3" x2="156.3" y1="825" y2="1018.6" stroke="#EBEBEB" stroke-width="1.18"/>
<line x1="195.93" x2="195.93" y1="825" y2="1018.6" stroke="#EBEBEB" stroke-width="1.18"/>
<line x1="235.57" x2="235.57" y1="825" y2="1018.6" stroke="#EBEBEB" stroke-width="1.18"/>
<rect x="59.2" y="979.92" width="35.67" height="29.57" fill="#F8766D"/>
<rect x="98.83" y="975.38" width="35.67" height="34.12" fill="#A3A500"/>
<rect x="138.46" y="970.83" width="35.67" height="38.67" fill="#00BF7D"/>
<rect x="178.1" y="973.78" width="35.67" height="35.72" fill="#00B0F6"/>
<rect x="217.73" y="951.49" width="35.67" height="58.01" fill="#E76BF3"/>
<rect x="53.5" y="825" width="206.1" height="193.6" fill="none" stroke="#3d3d3d" stroke-width="1.18"/>
<rect x="53.5" y="805.9" width="206.1" height="19.1" fill="#D9D9D9" stroke="#3d3d3d" stroke-width="1.18"/>
<text class="s" x="156.55" y="819.45" font-size="10" fill="#1A1A1A" text-anchor="middle">Slovakia</text>
<line x1="49.86" x2="52.91" y1="1009.5" y2="1009.5" stroke="#3d3d3d" stroke-width="1.18"/>
<text class="k" x="47.5" y="1013.2" font-size="10" fill="#4D4D4D" text-anchor="end">0</text>
<line x1="49.86" x2="52.91" y1="964" y2="964" stroke="#3d3d3d" stroke-width="1.18"/>
<text class="k" x="47.5" y="967.7" font-size="10" fill="#4D4D4D" text-anchor="end">20</text>
<line x1="49.86" x2="52.91" y1="918.5" y2="918.5" stroke="#3d3d3d" stroke-width="1.18"/>
<text class="k" x="47.5" y="922.2" font-size="10" fill="#4D4D4D" text-anchor="end">40</text>
<line x1="49.86" x2="52.91" y1="873" y2="873" stroke="#3d3d3d" stroke-width="1.18"/>
<text class="k" x="47.5" y="876.7" font-size="10" fill="#4D4D4D" text-anchor="end">60</text>
<line x1="49.86" x2="52.91" y1="827.5" y2="827.5" stroke="#3d3d3d" stroke-width="1.18"/>
<text class="k" x="47.5" y="831.2" font-size="10" fill="#4D4D4D" text-anchor="end">80</text>
<line x1="77.03" x2="77.03" y1="1019.19" y2="1022.24" stroke="#3d3d3d" stroke-width="1.18"/>
<text class="k" transform="translate(82.03,1029.6) rotate(-45)" font-size="10" fill="#4D4D4D" text-anchor="end">Low Skilled</text>
<line x1="116.67" x2="116.67" y1="1019.19" y2="1022.24" stroke="#3d3d3d" stroke-width="1.18"/>
<text class="k" transform="translate(121.67,1029.6) rotate(-45)" font-size="10" fill="#4D4D4D" text-anchor="end">Skilled Working</text>
<line x1="156.3" x2="156.3" y1="1019.19" y2="1022.24" stroke="#3d3d3d" stroke-width="1.18"/>
<text class="k" transform="translate(161.3,1029.6) rotate(-45)" font-size="10" fill="#4D4D4D" text-anchor="end">Middle</text>
<line x1="195.93" x2="195.93" y1="1019.19" y2="1022.24" stroke="#3d3d3d" stroke-width="1.18"/>
<text class="k" transform="translate(200.93,1029.6) rotate(-45)" font-size="10" fill="#4D4D4D" text-anchor="end">Upper Middle</text>
<line x1="235.57" x2="235.57" y1="1019.19" y2="1022.24" stroke="#3d3d3d" stroke-width="1.18"/>
<text class="k" transform="translate(240.57,1029.6) rotate(-45)" font-size="10" fill="#4D4D4D" text-anchor="end">Upper</text>
<rect x="265.7" y="825" width="206" height="193.6" fill="#fff"/>
<line x1="265.7" x2="471.7" y1="986.75" y2="986.75" stroke="#EBEBEB" stroke-width="0.6"/>
<line x1="265.7" x2="471.7" y1="941.25" y2="941.25" stroke="#EBEBEB" stroke-width="0.6"/>
<line x1="265.7" x2="471.7" y1="895.75" y2="895.75" stroke="#EBEBEB" stroke-width="0.6"/>
<line x1="265.7" x2="471.7" y1="850.25" y2="850.25" stroke="#EBEBEB" stroke-width="0.6"/>
<line x1="265.7" x2="471.7" y1="1009.5" y2="1009.5" stroke="#EBEBEB" stroke-width="1.18"/>
<line x1="265.7" x2="471.7" y1="964" y2="964" stroke="#EBEBEB" stroke-width="1.18"/>
<line x1="265.7" x2="471.7" y1="918.5" y2="918.5" stroke="#EBEBEB" stroke-width="1.18"/>
<line x1="265.7" x2="471.7" y1="873" y2="873" stroke="#EBEBEB" stroke-width="1.18"/>
<line x1="265.7" x2="471.7" y1="827.5" y2="827.5" stroke="#EBEBEB" stroke-width="1.18"/>
<line x1="289.47" x2="289.47" y1="825" y2="1018.6" stroke="#EBEBEB" stroke-width="1.18"/>
<line x1="329.08" x2="329.08" y1="825" y2="1018.6" stroke="#EBEBEB" stroke-width="1.18"/>
<line x1="368.7" x2="368.7" y1="825" y2="1018.6" stroke="#EBEBEB" stroke-width="1.18"/>
<line x1="408.32" x2="408.32" y1="825" y2="1018.6" stroke="#EBEBEB" stroke-width="1.18"/>
<line x1="447.93" x2="447.93" y1="825" y2="1018.6" stroke="#EBEBEB" stroke-width="1.18"/>
<rect x="271.64" y="964.91" width="35.65" height="44.59" fill="#F8766D"/>
<rect x="311.26" y="950.35" width="35.65" height="59.15" fill="#A3A500"/>
<rect x="350.87" y="943.98" width="35.65" height="65.52" fill="#00BF7D"/>
<rect x="390.49" y="907.12" width="35.65" height="102.38" fill="#00B0F6"/>
<rect x="430.1" y="916.91" width="35.65" height="92.59" fill="#E76BF3"/>
<rect x="265.7" y="825" width="206" height="193.6" fill="none" stroke="#3d3d3d" stroke-width="1.18"/>
<rect x="265.7" y="805.9" width="206" height="19.1" fill="#D9D9D9" stroke="#3d3d3d" stroke-width="1.18"/>
<text class="s" x="368.7" y="819.45" font-size="10" fill="#1A1A1A" text-anchor="middle">Spain</text>
<line x1="289.47" x2="289.47" y1="1019.19" y2="1022.24" stroke="#3d3d3d" stroke-width="1.18"/>
<text class="k" transform="translate(294.47,1029.6) rotate(-45)" font-size="10" fill="#4D4D4D" text-anchor="end">Low Skilled</text>
<line x1="329.08" x2="329.08" y1="1019.19" y2="1022.24" stroke="#3d3d3d" stroke-width="1.18"/>
<text class="k" transform="translate(334.08,1029.6) rotate(-45)" font-size="10" fill="#4D4D4D" text-anchor="end">Skilled Working</text>
<line x1="368.7" x2="368.7" y1="1019.19" y2="1022.24" stroke="#3d3d3d" stroke-width="1.18"/>
<text class="k" transform="translate(373.7,1029.6) rotate(-45)" font-size="10" fill="#4D4D4D" text-anchor="end">Middle</text>
<line x1="408.32" x2="408.32" y1="1019.19" y2="1022.24" stroke="#3d3d3d" stroke-width="1.18"/>
<text class="k" transform="translate(413.32,1029.6) rotate(-45)" font-size="10" fill="#4D4D4D" text-anchor="end">Upper Middle</text>
<line x1="447.93" x2="447.93" y1="1019.19" y2="1022.24" stroke="#3d3d3d" stroke-width="1.18"/>
<text class="k" transform="translate(452.93,1029.6) rotate(-45)" font-size="10" fill="#4D4D4D" text-anchor="end">Upper</text>
<rect x="478.2" y="825" width="206.2" height="193.6" fill="#fff"/>
<line x1="478.2" x2="684.4" y1="986.75" y2="986.75" stroke="#EBEBEB" stroke-width="0.6"/>
<line x1="478.2" x2="684.4" y1="941.25" y2="941.25" stroke="#EBEBEB" stroke-width="0.6"/>
<line x1="478.2" x2="684.4" y1="895.75" y2="895.75" stroke="#EBEBEB" stroke-width="0.6"/>
<line x1="478.2" x2="684.4" y1="850.25" y2="850.25" stroke="#EBEBEB" stroke-width="0.6"/>
<line x1="478.2" x2="684.4" y1="1009.5" y2="1009.5" stroke="#EBEBEB" stroke-width="1.18"/>
<line x1="478.2" x2="684.4" y1="964" y2="964" stroke="#EBEBEB" stroke-width="1.18"/>
<line x1="478.2" x2="684.4" y1="918.5" y2="918.5" stroke="#EBEBEB" stroke-width="1.18"/>
<line x1="478.2" x2="684.4" y1="873" y2="873" stroke="#EBEBEB" stroke-width="1.18"/>
<line x1="478.2" x2="684.4" y1="827.5" y2="827.5" stroke="#EBEBEB" stroke-width="1.18"/>
<line x1="501.99" x2="501.99" y1="825" y2="1018.6" stroke="#EBEBEB" stroke-width="1.18"/>
<line x1="541.65" x2="541.65" y1="825" y2="1018.6" stroke="#EBEBEB" stroke-width="1.18"/>
<line x1="581.3" x2="581.3" y1="825" y2="1018.6" stroke="#EBEBEB" stroke-width="1.18"/>
<line x1="620.95" x2="620.95" y1="825" y2="1018.6" stroke="#EBEBEB" stroke-width="1.18"/>
<line x1="660.61" x2="660.61" y1="825" y2="1018.6" stroke="#EBEBEB" stroke-width="1.18"/>
<rect x="484.15" y="961.73" width="35.69" height="47.77" fill="#F8766D"/>
<rect x="523.8" y="949.21" width="35.69" height="60.29" fill="#A3A500"/>
<rect x="563.46" y="943.98" width="35.69" height="65.52" fill="#00BF7D"/>
<rect x="603.11" y="907.12" width="35.69" height="102.38" fill="#00B0F6"/>
<rect x="642.76" y="916.91" width="35.69" height="92.59" fill="#E76BF3"/>
<rect x="478.2" y="825" width="206.2" height="193.6" fill="none" stroke="#3d3d3d" stroke-width="1.18"/>
<rect x="478.2" y="805.9" width="206.2" height="19.1" fill="#D9D9D9" stroke="#3d3d3d" stroke-width="1.18"/>
<text class="s" x="581.3" y="819.45" font-size="10" fill="#1A1A1A" text-anchor="middle">Overall</text>
<line x1="501.99" x2="501.99" y1="1019.19" y2="1022.24" stroke="#3d3d3d" stroke-width="1.18"/>
<text class="k" transform="translate(506.99,1029.6) rotate(-45)" font-size="10" fill="#4D4D4D" text-anchor="end">Low Skilled</text>
<line x1="541.65" x2="541.65" y1="1019.19" y2="1022.24" stroke="#3d3d3d" stroke-width="1.18"/>
<text class="k" transform="translate(546.65,1029.6) rotate(-45)" font-size="10" fill="#4D4D4D" text-anchor="end">Skilled Working</text>
<line x1="581.3" x2="581.3" y1="1019.19" y2="1022.24" stroke="#3d3d3d" stroke-width="1.18"/>
<text class="k" transform="translate(586.3,1029.6) rotate(-45)" font-size="10" fill="#4D4D4D" text-anchor="end">Middle</text>
<line x1="620.95" x2="620.95" y1="1019.19" y2="1022.24" stroke="#3d3d3d" stroke-width="1.18"/>
<text class="k" transform="translate(625.95,1029.6) rotate(-45)" font-size="10" fill="#4D4D4D" text-anchor="end">Upper Middle</text>
<line x1="660.61" x2="660.61" y1="1019.19" y2="1022.24" stroke="#3d3d3d" stroke-width="1.18"/>
<text class="k" transform="translate(665.61,1029.6) rotate(-45)" font-size="10" fill="#4D4D4D" text-anchor="end">Upper</text>
<text class="a" x="368.95" y="1091.5" font-size="12.6" fill="#000" text-anchor="middle">Group</text>
<text class="a" transform="translate(30.4,812.25) rotate(-90)" font-size="12.6" fill="#000" text-anchor="middle">Median Income</text>
</g>
</svg>
</body></html>
